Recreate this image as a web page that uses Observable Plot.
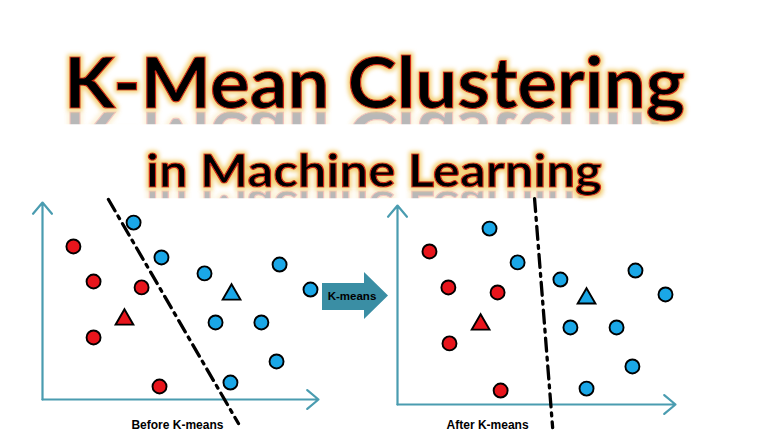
<!DOCTYPE html>
<html>
<head>
<meta charset="utf-8">
<script src="https://cdn.jsdelivr.net/npm/d3@7"></script>
<script src="https://cdn.jsdelivr.net/npm/@observablehq/plot@0.6"></script>
<style>
  html, body { margin: 0; padding: 0; background: #fff; }
  #root { position: relative; width: 783px; height: 441px; overflow: hidden; background: #fff; }
  #root > * { position: absolute; }
</style>
</head>
<body>
<div id="root"></div>
<script>
// ---------- Text ----------
const titleLine1 = "K-Mean Clustering";
const titleLine2 = "in Machine Learning";
const panelLabels = ["Before K-means", "After K-means"];
const arrowLabel = "K-means";

// ---------- Data (axis units 0..100 along each arrowed axis) ----------
const groups = ["A", "B"];               // A = red cluster, B = blue cluster
const groupColors = ["#e8151c", "#1aa7e7"];

// Before K-means: points
const beforeX = [33.0, 11.2, 43.1, 58.7, 85.9, 18.5, 35.9, 97.1, 62.7, 79.3, 18.5, 84.8, 42.4, 68.1];
const beforeY = [89.8, 77.7, 72.1, 64.0, 68.5, 59.9, 56.9, 55.8, 39.1, 39.1, 31.5, 19.3, 6.6, 8.6];
const beforeG = ["B", "A", "B", "B", "B", "A", "A", "B", "B", "B", "A", "B", "A", "B"];
// Before K-means: centroids (triangles)
const beforeCx = [29.7, 68.5];
const beforeCy = [40.6, 53.3];
const beforeCg = ["A", "B"];
// Before K-means: dash-dot boundary
const beforeBx = [23.9, 71.0];
const beforeBy = [101.5, -12.2];
// Before label position
const beforeLabelX = [48.9];
const beforeLabelY = [-13.2];

// After K-means: points
const afterX = [33.1, 11.5, 43.2, 58.6, 85.6, 18.3, 36.0, 96.4, 62.2, 78.8, 18.7, 84.5, 37.1, 68.0];
const afterY = [88.4, 76.9, 71.4, 62.8, 67.3, 58.8, 56.3, 55.3, 38.7, 38.7, 30.7, 19.1, 7.0, 8.0];
const afterG = ["B", "A", "B", "B", "B", "A", "A", "B", "B", "B", "A", "B", "A", "B"];
// After K-means: centroids
const afterCx = [29.9, 68.0];
const afterCy = [40.2, 53.3];
const afterCg = ["A", "B"];
// After K-means: dash-dot boundary
const afterBx = [49.3, 55.8];
const afterBy = [103.5, -11.6];
// After label position
const afterLabelX = [32.4];
const afterLabelY = [-10.6];

// Axis extent
const axisMin = 0, axisMax = 100;

const rows = (xs, ys, gs) => xs.map((x, i) => ({x, y: ys[i], g: gs ? gs[i] : null}));

const root = document.getElementById("root");

// ---------- Title (SVG text with glow) ----------
const tsvg = d3.create("svg").attr("width", 783).attr("height", 200)
  .style("left", "0px").style("top", "0px").style("overflow", "visible");
const defs = tsvg.append("defs");
const glow = defs.append("filter").attr("id", "glow").attr("x", "-10%").attr("y", "-30%").attr("width", "120%").attr("height", "160%");
glow.append("feMorphology").attr("in", "SourceAlpha").attr("operator", "dilate").attr("radius", 2).attr("result", "dil");
glow.append("feGaussianBlur").attr("in", "dil").attr("stdDeviation", 2).attr("result", "blur");
glow.append("feFlood").attr("flood-color", "#f3cf73").attr("result", "col");
glow.append("feComposite").attr("in", "col").attr("in2", "blur").attr("operator", "in").attr("result", "g");
const fm = glow.append("feMerge");
fm.append("feMergeNode").attr("in", "g");
fm.append("feMergeNode").attr("in", "SourceGraphic");

const grad = defs.append("linearGradient").attr("id", "refl").attr("gradientUnits", "objectBoundingBox")
  .attr("x1", 0).attr("y1", 0).attr("x2", 0).attr("y2", 1);
grad.append("stop").attr("offset", "0%").attr("stop-color", "#fff").attr("stop-opacity", 1);
grad.append("stop").attr("offset", "72%").attr("stop-color", "#fff").attr("stop-opacity", 1);
grad.append("stop").attr("offset", "100%").attr("stop-color", "#fff").attr("stop-opacity", 0.55);

let tid = 0;
function title(text, x, y, size, len) {
  const id = "title" + (tid++);
  const t = tsvg.append("text").attr("id", id)
    .attr("x", x).attr("y", y)
    .attr("textLength", len).attr("lengthAdjust", "spacingAndGlyphs")
    .attr("font-family", "Lato, 'Open Sans', sans-serif").attr("font-weight", 700)
    .attr("font-size", size).attr("fill", "#000")
    .attr("stroke", "#d42818").attr("stroke-width", 1.2)
    .attr("filter", "url(#glow)")
    .text(text);
  // faint mirrored reflection under the baseline (a <use>, not a second text)
  const clipId = id + "clip";
  defs.append("clipPath").attr("id", clipId)
    .append("rect").attr("x", 0).attr("y", y + 2).attr("width", 783).attr("height", size * 0.2);
  const g = tsvg.insert("g", "#" + id).attr("clip-path", `url(#${clipId})`).attr("opacity", 0.28);
  g.append("use").attr("href", "#" + id)
    .attr("transform", `translate(0,${2 * y + 4}) scale(1,-1)`);
}
title(titleLine1, 64, 108, 71, 621);
title(titleLine2, 146, 187, 46, 456);
root.appendChild(tsvg.node());

// ---------- Panels ----------
function panel({pts, cents, bound, labX, labY, label, left, top, width, height, margins}) {
  const color = {domain: groups, range: groupColors};
  const axisColor = "#4a9cb0";
  const p = Plot.plot({
    width, height,
    marginLeft: margins[0], marginRight: margins[1], marginTop: margins[2], marginBottom: margins[3],
    x: {domain: [axisMin, axisMax], axis: null},
    y: {domain: [axisMin, axisMax], axis: null},
    color,
    style: {background: "transparent", overflow: "visible"},
    marks: [
      Plot.arrow([{x1: axisMin, y1: axisMin, x2: axisMax, y2: axisMin}, {x1: axisMin, y1: axisMin, x2: axisMin, y2: axisMax}], {
        x1: "x1", y1: "y1", x2: "x2", y2: "y2",
        stroke: axisColor, strokeWidth: 2.2, headLength: 10, headAngle: 80
      }),
      Plot.line(bound, {x: "x", y: "y", stroke: "#000", strokeWidth: 3.3, strokeDasharray: "13,6,3,6"}),
      Plot.dot(pts, {x: "x", y: "y", fill: "g", stroke: "#000", strokeWidth: 1.9, r: 7}),
      Plot.dot(cents, {x: "x", y: "y", fill: "g", stroke: "#000", strokeWidth: 1.9, r: 6.6, symbol: "triangle"}),
      Plot.text(rows(labX, labY), {x: "x", y: "y", text: () => label,
        fontFamily: "'Liberation Sans', Arial, sans-serif", fontWeight: "bold", fontSize: 12, fill: "#000"})
    ]
  });
  p.style.left = left + "px";
  p.style.top = top + "px";
  root.appendChild(p);
}

panel({
  pts: rows(beforeX, beforeY, beforeG), cents: rows(beforeCx, beforeCy, beforeCg), bound: rows(beforeBx, beforeBy),
  labX: beforeLabelX, labY: beforeLabelY, label: panelLabels[0],
  left: 0, top: 190, width: 390, height: 251, margins: [42, 72, 12, 42]
});
panel({
  pts: rows(afterX, afterY, afterG), cents: rows(afterCx, afterCy, afterCg), bound: rows(afterBx, afterBy),
  labX: afterLabelX, labY: afterLabelY, label: panelLabels[1],
  left: 390, top: 190, width: 393, height: 251, margins: [7, 108, 15, 37]
});

// ---------- Block arrow "K-means" ----------
const asvg = d3.create("svg").attr("width", 70).attr("height", 50)
  .style("left", "321px").style("top", "271px");
asvg.append("path")
  .attr("d", "M1,12 H43 V1 L67,24.5 L43,48 V39 H1 Z")
  .attr("fill", "#3a8ea4");
asvg.append("text").attr("x", 31).attr("y", 28.5).attr("text-anchor", "middle")
  .attr("font-family", "'Liberation Sans', Arial, sans-serif").attr("font-weight", "bold")
  .attr("font-size", 11.5).attr("fill", "#000").text(arrowLabel);
root.appendChild(asvg.node());
</script>
</body>
</html>
